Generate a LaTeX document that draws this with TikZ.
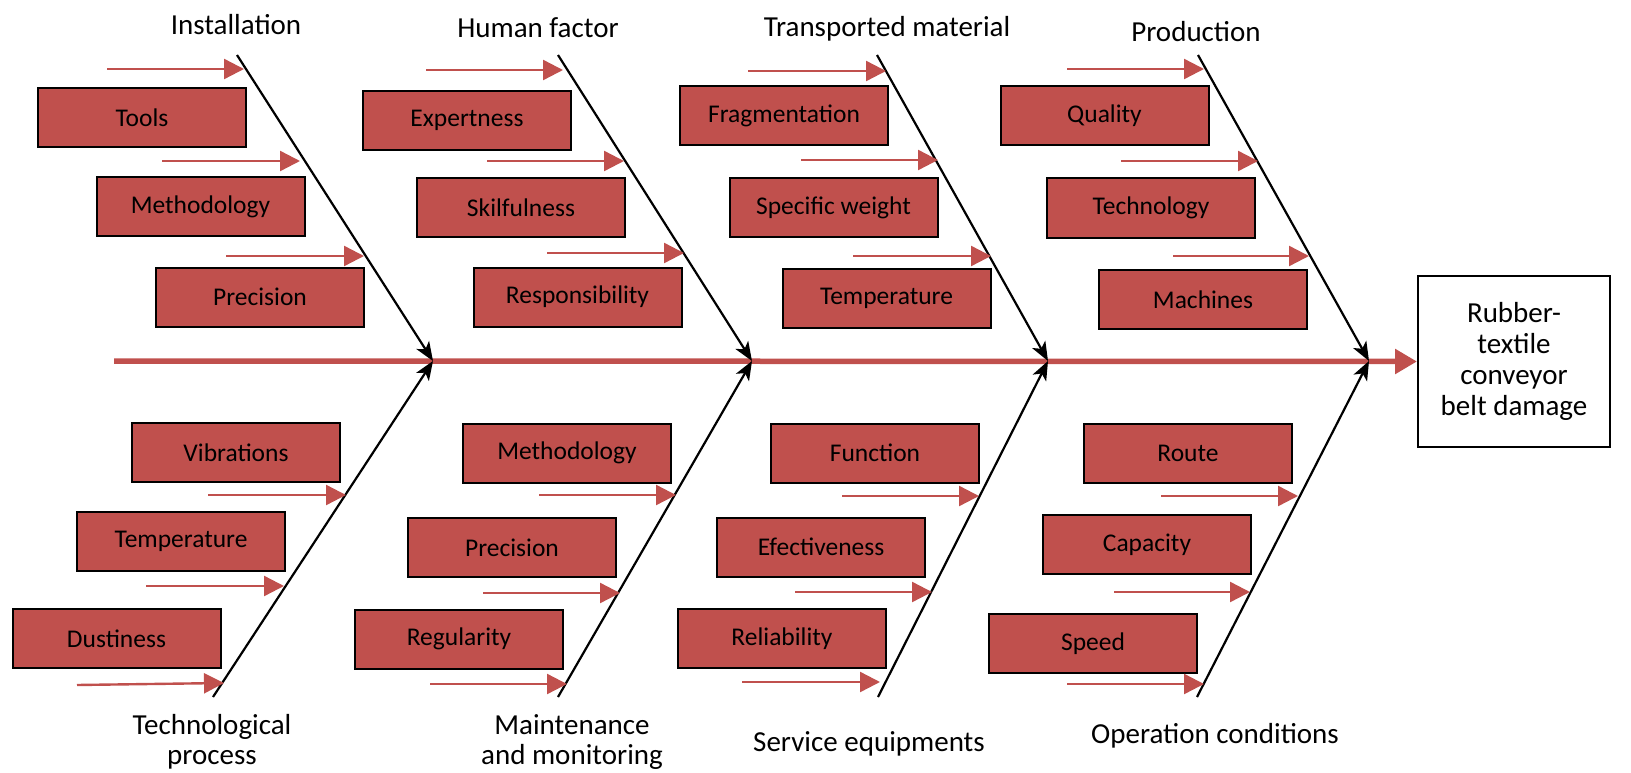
\documentclass[tikz,border=0pt]{standalone}
\usepackage{fontspec}
\setmainfont{Carlito}
\usetikzlibrary{arrows.meta}
\definecolor{boxred}{HTML}{C0504D}
\begin{document}
\begin{tikzpicture}[x=1pt,y=-1pt,
  cause/.style={draw=black, line width=2pt, fill=boxred, minimum width=208pt, minimum height=59pt, inner sep=0pt, font=\fontsize{25.5}{30}\selectfont, text=black},
  catlabel/.style={font=\fontsize{29}{30}\selectfont, align=center, inner sep=0pt},
  bone/.style={line width=2.2pt, -{Stealth[length=19pt,width=15pt,inset=5pt]}},
  subarrow/.style={boxred, line width=2.4pt, -{Triangle[length=20pt,width=20pt]}},
  spine/.style={boxred, line width=5.5pt, -{Triangle[length=22pt,width=24pt]}},
]
\useasboundingbox (0,0) rectangle (1631,773);

% result box
\node[draw=black, line width=2pt, minimum width=192pt, minimum height=171pt, align=center,
      font=\fontsize{29}{31}\selectfont, inner sep=0pt] (res) at (1514,361.5)
      {Rubber-\\textile\\conveyor\\belt damage};

% spine
\coordinate (spstart) at (114,361);
\draw[spine] (spstart) -- (res.west);

% bone junctions
\coordinate (j1) at (433,361);
\coordinate (j2) at (752,361);
\coordinate (j3) at (1048,361);
\coordinate (j4) at (1369,361);

% bone ends
\coordinate (t1) at (237,55);
\coordinate (t2) at (558,55);
\coordinate (t3) at (877,55);
\coordinate (t4) at (1198,55);
\coordinate (b1) at (213,697);
\coordinate (b2) at (558,697);
\coordinate (b3) at (878,697);
\coordinate (b4) at (1197,697);

\draw[bone] (t1) -- (j1);
\draw[bone] (t2) -- (j2);
\draw[bone] (t3) -- (j3);
\draw[bone] (t4) -- (j4);
\draw[bone] (b1) -- (j1);
\draw[bone] (b2) -- (j2);
\draw[bone] (b3) -- (j3);
\draw[bone] (b4) -- (j4);

% category labels
\node[catlabel] (lInst) at (236,25) {Installation};
\node[catlabel] (lHum) at (538,28) {Human factor};
\node[catlabel] (lTrans) at (887,29) {Transported material};
\node[catlabel] (lProd) at (1196,32) {Production};
\node[catlabel] (lTech) at (212,742) {Technological\\process};
\node[catlabel] (lMaint) at (572,742) {Maintenance\\and monitoring};
\node[catlabel] (lServ) at (869,744) {Service equipments};
\node[catlabel] (lOper) at (1215,736) {Operation conditions};

% cause boxes - top
\node[cause] (tools) at (142,117.5) {Tools};
\node[cause] (meth1) at (200.5,206.5) {Methodology};
\node[cause] (prec1) at (260,297) {Precision};
\node[cause] (expert) at (467,120.5) {Expertness};
\node[cause] (skil) at (521,207.5) {Skilfulness};
\node[cause] (resp) at (577.5,297) {Responsibility};
\node[cause] (frag) at (784,116) {Fragmentation};
\node[cause] (spec) at (833.5,207.5) {Specific weight};
\node[cause] (temp1) at (886.5,298) {Temperature};
\node[cause] (qual) at (1104.5,116) {Quality};
\node[cause] (techn) at (1151,208) {Technology};
\node[cause] (mach) at (1203,299.5) {Machines};
% cause boxes - bottom
\node[cause] (vib) at (236,452.5) {Vibrations};
\node[cause] (temp2) at (181,541) {Temperature};
\node[cause] (dust) at (116.5,638.5) {Dustiness};
\node[cause] (meth2) at (567,453) {Methodology};
\node[cause] (prec2) at (512,547.5) {Precision};
\node[cause] (reg) at (459,639) {Regularity};
\node[cause] (func) at (875,453) {Function};
\node[cause] (efec) at (821,547) {Efectiveness};
\node[cause] (rel) at (782,638.5) {Reliability};
\node[cause] (route) at (1188,453) {Route};
\node[cause] (cap) at (1147,544.5) {Capacity};
\node[cause] (speed) at (1093,643.5) {Speed};

% small arrows: tails and tips
\coordinate (a1s) at (107,69);   \coordinate (a1e) at (244,69);
\coordinate (a2s) at (162,161);  \coordinate (a2e) at (300,161);
\coordinate (a3s) at (226,256);  \coordinate (a3e) at (364,256);
\coordinate (a4s) at (426,70);   \coordinate (a4e) at (563,70);
\coordinate (a5s) at (487,161);  \coordinate (a5e) at (624,161);
\coordinate (a6s) at (547,253);  \coordinate (a6e) at (684,253);
\coordinate (a7s) at (748,71);   \coordinate (a7e) at (886,71);
\coordinate (a8s) at (801,160);  \coordinate (a8e) at (938,160);
\coordinate (a9s) at (853,256);  \coordinate (a9e) at (991,256);
\coordinate (a10s) at (1067,69); \coordinate (a10e) at (1204,69);
\coordinate (a11s) at (1121,161);\coordinate (a11e) at (1258,161);
\coordinate (a12s) at (1173,256);\coordinate (a12e) at (1309,256);
\coordinate (a13s) at (208,495); \coordinate (a13e) at (346,495);
\coordinate (a14s) at (146,586); \coordinate (a14e) at (284,586);
\coordinate (a15s) at (77,685);  \coordinate (a15e) at (224,683);
\coordinate (a16s) at (539,495); \coordinate (a16e) at (676,495);
\coordinate (a17s) at (483,593); \coordinate (a17e) at (620,593);
\coordinate (a18s) at (430,684); \coordinate (a18e) at (567,684);
\coordinate (a19s) at (842,496); \coordinate (a19e) at (979,496);
\coordinate (a20s) at (795,592); \coordinate (a20e) at (932,592);
\coordinate (a21s) at (742,682); \coordinate (a21e) at (880,682);
\coordinate (a22s) at (1161,496);\coordinate (a22e) at (1298,496);
\coordinate (a23s) at (1114,592);\coordinate (a23e) at (1250,592);
\coordinate (a24s) at (1067,684);\coordinate (a24e) at (1204,684);

\foreach \i in {1,...,24} {
  \draw[subarrow] (a\i s) -- (a\i e);
}
\end{tikzpicture}
\end{document}
